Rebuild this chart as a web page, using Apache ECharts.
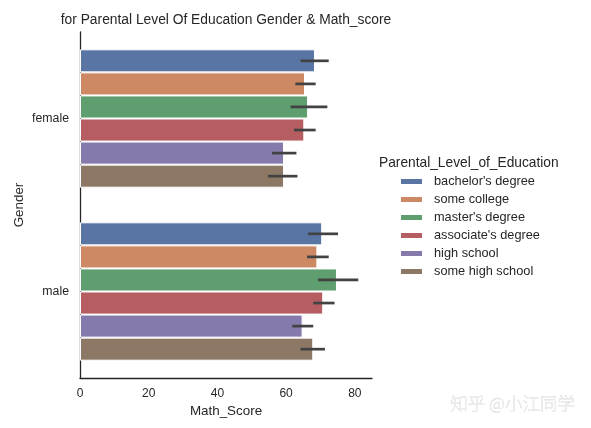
<!DOCTYPE html>
<html>
<head>
<meta charset="utf-8">
<script src="https://cdn.jsdelivr.net/npm/echarts@6/dist/echarts.min.js"></script>
<style>html,body{margin:0;padding:0;background:#fff}#c{width:591px;height:428px}</style>
</head>
<body>
<div id="c"></div>
<script>
const categories = ['female', 'male'];
const groups = ["bachelor's degree", 'some college', "master's degree", "associate's degree", 'high school', 'some high school'];
const femaleMean = [68.4, 65.5, 66.4, 65.3, 59.4, 59.4];
const maleMean   = [70.5, 69.1, 74.8, 70.8, 64.8, 67.9];
const femaleLow  = [64.2, 62.7, 61.3, 62.3, 55.9, 54.7];
const femaleHigh = [72.4, 68.6, 72.0, 68.6, 63.0, 63.3];
const maleLow    = [66.4, 66.1, 69.3, 67.9, 61.8, 64.2];
const maleHigh   = [75.1, 72.4, 81.0, 74.1, 67.9, 71.3];
const xTicks = [0, 20, 40, 60, 80];
const colors = ['#5975a4', '#cc8963', '#5f9e6e', '#b55d60', '#857aab', '#8d7866'];

const FONT = '"Liberation Sans", Arial, sans-serif';
const chart = echarts.init(document.getElementById('c'), null, {renderer: 'canvas'});
const nG = groups.length;
const series = [];
groups.forEach(function (g, i) {
  series.push({
    name: g, type: 'bar',
    data: [femaleMean[i], maleMean[i]],
    barCategoryGap: '20%', barGap: '0%',
    itemStyle: {color: colors[i], borderColor: '#ffffff', borderWidth: 1},
    emphasis: {disabled: true}
  });
});
groups.forEach(function (g, i) {
  series.push({
    name: 'err_' + i, type: 'custom',
    data: [[0, femaleLow[i], femaleHigh[i]], [1, maleLow[i], maleHigh[i]]],
    encode: {y: 0, x: [1, 2]},
    z: 10,
    renderItem: function (params, api) {
      const cat = api.value(0);
      const p1 = api.coord([api.value(1), cat]);
      const p2 = api.coord([api.value(2), cat]);
      const band = api.size([0, 1])[1];
      const bw = band * 0.8 / nG;
      const off = (i - (nG - 1) / 2) * bw;
      return {type: 'line', shape: {x1: p1[0], y1: p1[1] + off, x2: p2[0], y2: p2[1] + off},
        style: {stroke: '#424242', lineWidth: 2.7}};
    }
  });
});

chart.setOption({
  animation: false,
  backgroundColor: '#ffffff',
  textStyle: {fontFamily: FONT},
  title: [{
    text: 'for Parental Level Of Education Gender & Math_score',
    left: 226, top: 13, textAlign: 'center', padding: 0,
    textStyle: {fontFamily: FONT, fontSize: 13.8, fontWeight: 'normal', color: '#262626'}
  }, {
    text: 'Parental_Level_of_Education',
    left: 379, top: 156, padding: 0,
    textStyle: {fontFamily: FONT, fontSize: 13.75, fontWeight: 'normal', color: '#262626'}
  }],
  legend: {
    data: groups, orient: 'vertical', left: 399, top: 175, padding: 0,
    itemWidth: 23, itemHeight: 7, itemGap: 5, icon: 'rect',
    textStyle: {fontFamily: FONT, fontSize: 12.75, color: '#262626', padding: [0, 0, 0, 6]},
    selectedMode: false
  },
  grid: {left: 80, right: 219, top: 32, bottom: 50, containLabel: false},
  xAxis: {
    type: 'value', min: 0, max: 85, interval: 20,
    name: 'Math_Score', nameLocation: 'middle', nameGap: 25,
    nameTextStyle: {fontFamily: FONT, fontSize: 13.4, color: '#262626'},
    axisLine: {show: true, lineStyle: {color: '#262626', width: 1.3}},
    axisTick: {show: false}, splitLine: {show: false},
    axisLabel: {fontFamily: FONT, fontSize: 12, color: '#262626', margin: 10, showMaxLabel: false,
      formatter: function (v) { return xTicks.indexOf(v) >= 0 ? String(v) : ''; }}
  },
  yAxis: {
    type: 'category', data: categories, inverse: true,
    name: 'Gender', nameLocation: 'middle', nameGap: 54,
    nameTextStyle: {fontFamily: FONT, fontSize: 13.4, color: '#262626'},
    axisLine: {show: true, lineStyle: {color: '#262626', width: 1.3}},
    axisTick: {show: false}, splitLine: {show: false},
    axisLabel: {fontFamily: FONT, fontSize: 12.3, color: '#262626', margin: 11}
  },
  graphic: [{
    type: 'text', left: 450, top: 394,
    style: {text: '知乎 @小江同学', font: '300 17.5px "Noto Sans CJK SC", sans-serif', fill: '#eeeeee',
      stroke: '#c6c6c6', lineWidth: 0.35}
  }],
  series: series
});
</script>
</body>
</html>
